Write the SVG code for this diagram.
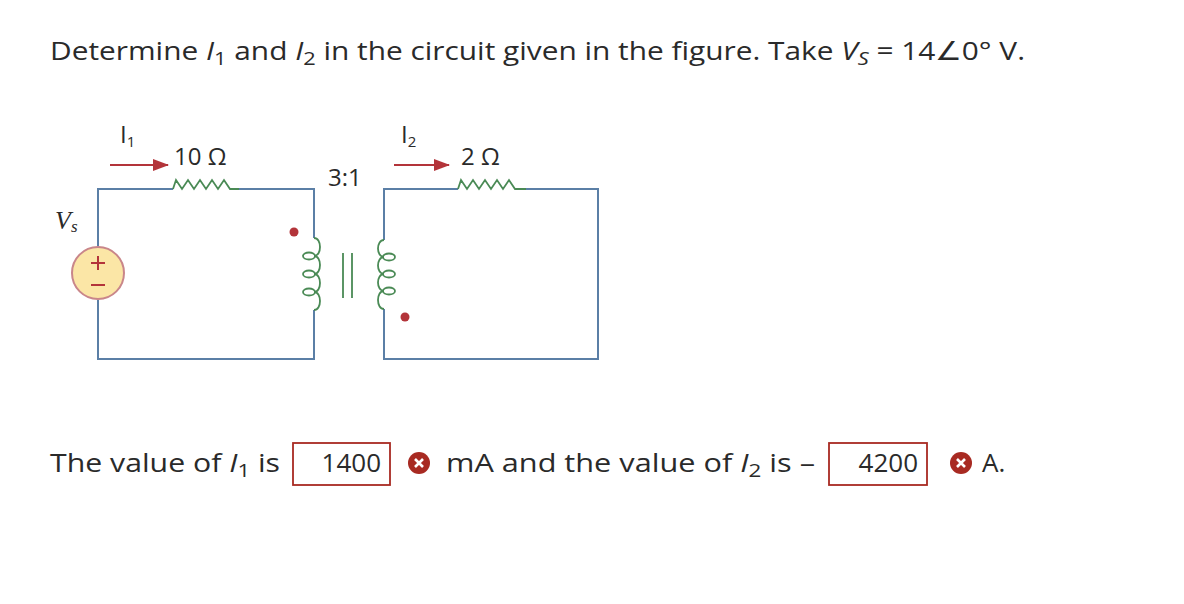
<svg xmlns="http://www.w3.org/2000/svg" width="1184" height="604" viewBox="0 0 1184 604">
<style>
.t{font-family:"Open Sans","Liberation Sans",Arial,sans-serif;font-size:26px;fill:#2a2a2a}
.l{font-family:"Open Sans","Liberation Sans",Arial,sans-serif;font-size:24px;fill:#2a2a2a}
.w{fill:none;stroke:#5b7fa6;stroke-width:2}
.g{fill:none;stroke:#4a8a55;stroke-width:1.8}
.r{fill:none;stroke:#b3343a;stroke-width:2}
.box{fill:#fff;stroke:#a82a22;stroke-width:1.8}
</style>
<defs>
<marker id="ah" markerWidth="16" markerHeight="12" refX="15" refY="6" orient="auto" markerUnits="userSpaceOnUse"><path d="M0,0 L16,6 L0,12 Z" fill="#b3343a"/></marker>
<g id="xc"><circle r="11" fill="#a82a22"/><path d="M-4,-4 L4,4 M4,-4 L-4,4" stroke="#fff" stroke-width="2.6"/></g>
</defs>
<rect width="1184" height="604" fill="#fff"/>
<text class="t" x="50" y="60" textLength="975" lengthAdjust="spacingAndGlyphs">Determine <tspan font-style="italic">I</tspan><tspan font-size="19" dy="5">1</tspan><tspan dy="-5"> and </tspan><tspan font-style="italic">I</tspan><tspan font-size="19" dy="5">2</tspan><tspan dy="-5"> in the circuit given in the figure. Take </tspan><tspan font-style="italic">V</tspan><tspan font-style="italic" font-size="19" dy="5">S</tspan><tspan dy="-5"> = 14∠0° V.</tspan></text>
<g id="connectors">
<path class="w" d="M98,246 V189 H173 M239,189 H314 V238 M314,310 V359 H98 V300"/>
<path class="w" d="M458,189 H384 V240 M384,309 V359 H598 V189 H526"/>
<path class="r" d="M110,165 H168" marker-end="url(#ah)"/>
<path class="r" d="M394,165 H449" marker-end="url(#ah)"/>
</g>
<g id="source"><circle cx="98" cy="273" r="26" fill="#fbe6a6" stroke="#c9868a" stroke-width="2"/>
<path d="M91,263 H105 M98,256 V270 M91,285 H105" stroke="#b3343a" stroke-width="2"/>
<text x="55" y="229" font-family="Liberation Serif,serif" font-style="italic" font-size="26" fill="#2a2a2a">V<tspan font-size="17" dy="3">s</tspan></text></g>
<g id="r10"><path class="g" d="M173,189 L176,180 L182,189 L188,180 L194,189 L200,180 L206,189 L212,180 L218,189 L224,180 L230,189 L239,189"/><text class="l" x="174" y="165">10 Ω</text></g>
<g id="r2"><path class="g" d="M458,189 L461,180 L467,189 L473,180 L479,189 L485,180 L491,189 L497,180 L503,189 L509,180 L515,189 L526,189"/><text class="l" x="461" y="165">2 Ω</text></g>
<g id="labels"><text class="l" x="120" y="143">I<tspan font-size="15" dy="4">1</tspan></text><text class="l" x="401" y="143">I<tspan font-size="15" dy="4">2</tspan></text><text class="l" x="328" y="186">3:1</text></g>
<g id="xfmr">
<path class="g" d="M314,238 C322,238 322,256 314,256 M314,256 C322,256 322,274 314,274 M314,274 C322,274 322,292 314,292 M314,292 C322,292 322,310 314,310"/>
<ellipse class="g" cx="309" cy="256" rx="6" ry="3.5"/><ellipse class="g" cx="309" cy="274" rx="6" ry="3.5"/><ellipse class="g" cx="309" cy="292" rx="6" ry="3.5"/>
<path class="g" d="M384,240 C376,240 376,257 384,257 M384,257 C376,257 376,274 384,274 M384,274 C376,274 376,291 384,291 M384,291 C376,291 376,309 384,309"/>
<ellipse class="g" cx="389" cy="257" rx="6" ry="3.5"/><ellipse class="g" cx="389" cy="274" rx="6" ry="3.5"/><ellipse class="g" cx="389" cy="291" rx="6" ry="3.5"/>
<path class="g" d="M343,253 V298 M352,253 V298"/>
<circle cx="294" cy="232" r="4.5" fill="#b3343a"/><circle cx="405" cy="317" r="4.5" fill="#b3343a"/>
</g>
<text class="t" x="50" y="472" textLength="230" lengthAdjust="spacingAndGlyphs">The value of <tspan font-style="italic">I</tspan><tspan font-size="19" dy="5">1</tspan><tspan dy="-5"> is</tspan></text>
<rect class="box" x="293" y="443" width="97" height="42"/>
<text class="t" x="381" y="472" text-anchor="end">1400</text>
<use href="#xc" x="419" y="463"/>
<text class="t" x="446" y="472" textLength="369" lengthAdjust="spacingAndGlyphs">mA and the value of <tspan font-style="italic">I</tspan><tspan font-size="19" dy="5">2</tspan><tspan dy="-5"> is –</tspan></text>
<rect class="box" x="829" y="443" width="98" height="42"/>
<text class="t" x="918" y="472" text-anchor="end">4200</text>
<use href="#xc" x="961" y="463"/>
<text class="t" x="982" y="472">A.</text>
</svg>
